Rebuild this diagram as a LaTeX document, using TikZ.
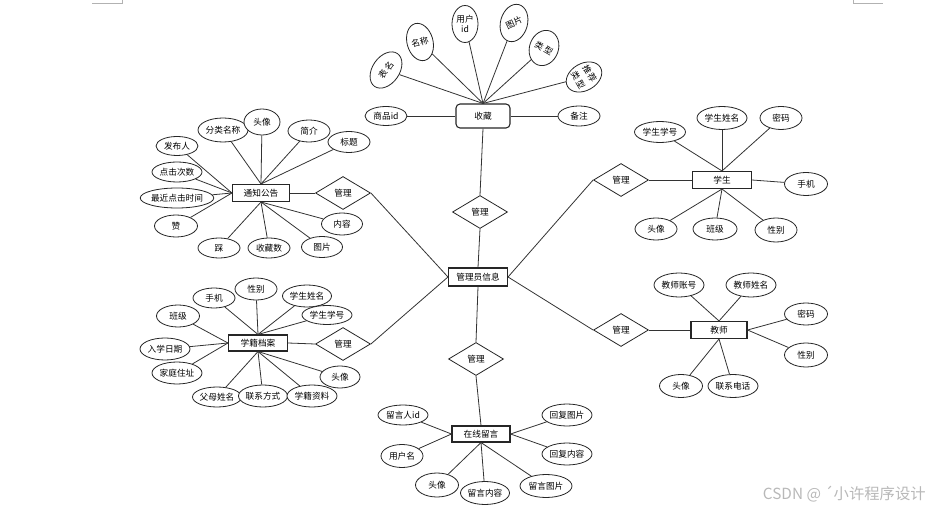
\documentclass[tikz,border=0pt]{standalone}
\usepackage{fontspec}
\usepackage{graphicx}
\setmainfont{Noto Sans CJK SC}
\usetikzlibrary{shapes.geometric}
\begin{document}
\begin{tikzpicture}[x=0.75pt,y=-0.75pt,
  every node/.style={font=\fontsize{6.5}{7.5}\selectfont, inner sep=0pt, text=black},
  ln/.style={draw=black!80, line width=0.6pt},
  ent/.style 2 args={rectangle, draw=black!85, line width=0.8pt, fill=white, minimum width=#1*0.75pt, minimum height=#2*0.75pt},
  att/.style 2 args={ellipse, draw=black!85, line width=0.6pt, fill=white, minimum width=#1*0.75pt, minimum height=#2*0.75pt},
  rel/.style={diamond, draw=black!85, line width=0.6pt, fill=white, minimum width=55*0.75pt, minimum height=33*0.75pt},
  cornermark/.style={draw=black!30, line width=0.6pt}
]
\useasboundingbox (0,0) rectangle (931,509);

% page corner marks
\draw[cornermark] (92,3) -- (122,3) -- (122,0);
\draw[cornermark] (853,0) -- (853,3) -- (883,3);

% ---------- entities ----------
\node[ent={59}{18}] (admin) at (478,277) {管理员信息};
\node[ent={54}{24}, rounded corners=3pt] (fav) at (483,116) {收藏};
\node[ent={57}{17}] (notice) at (261,193) {通知公告};
\node[ent={59}{16}] (record) at (258,343) {学籍档案};
\node[ent={59}{17}] (stu) at (722,180) {学生};
\node[ent={56}{17}] (tea) at (719,330) {教师};
\node[ent={58}{16}] (msg) at (481,434) {在线留言};

% ---------- relations ----------
\node[rel] (d1) at (480,212) {管理};
\node[rel] (d2) at (343,193) {管理};
\node[rel] (d3) at (343,344) {管理};
\node[rel] (d4) at (621,180) {管理};
\node[rel] (d5) at (621,330) {管理};
\node[rel] (d6) at (476,359) {管理};

\draw[ln] (fav.south) -- (d1.north);
\draw[ln] (d1.south) -- (admin.north);
\draw[ln] (notice.east) -- (d2.west);
\draw[ln] (d2.east) -- (admin.west);
\draw[ln] (record.east) -- (d3.west);
\draw[ln] (d3.east) -- (admin.west);
\draw[ln] (stu.west) -- (d4.east);
\draw[ln] (d4.west) -- (admin.east);
\draw[ln] (tea.west) -- (d5.east);
\draw[ln] (d5.west) -- (admin.east);
\draw[ln] (admin.south) -- (d6.north);
\draw[ln] (d6.south) -- (msg.north);

% ---------- 收藏 attributes ----------
\node[att={42}{19}] (fa) at (386,116) {商品id};
\node[att={42}{20}] (fr) at (579,116) {备注};
\node[att={40}{27}, rotate=55] (fb) at (386,70) {表\hspace{1.5pt}名};
\node[att={38}{26}, rotate=105] (fn) at (420,42) {\rotatebox{-90}{名称}};
\node[att={26}{37}, align=center] (fu) at (465,24) {用户\\id};
\node[att={38}{27}, rotate=75] (fp) at (514,23) {\rotatebox{-50}{图片}};
\node[att={36}{27}, rotate=70] (ft) at (544,48) {\rotatebox{-100}{类\hspace{1.5pt}型}};
\node[att={38}{27}, rotate=30] (fi) at (584,77) {\rotatebox{-90}{\shortstack{推\hspace{1pt}荐\\[1pt]类\hspace{1pt}型}}};

\draw[ln] (fav.west) -- (fa);
\draw[ln] (fav.east) -- (fr);
\foreach \n in {fb,fn,fu,fp,ft,fi} \draw[ln] (fav.north) -- (\n);

% ---------- 通知公告 attributes ----------
\node[att={42}{19}] (n1) at (177,146) {发布人};
\node[att={50}{20}] (n2) at (177,172) {点击次数};
\node[att={66}{20}] (n3) at (177,198) {最近点击时间};
\node[att={43}{22}] (n4) at (176,226) {赞};
\node[att={50}{24}] (n5) at (223,130) {分类名称};
\node[att={36}{26}] (n6) at (262,122) {头像};
\node[att={42}{22}] (n7) at (309,131) {简介};
\node[att={42}{21}] (n8) at (349,142) {标题};
\node[att={42}{20}] (n9) at (219,248) {踩};
\node[att={42}{20}] (n10) at (269,248) {收藏数};
\node[att={41}{21}] (n11) at (322,247) {图片};
\node[att={41}{22}] (n12) at (342,224) {内容};

\foreach \n in {n1,n2,n3,n4} \draw[ln] (notice.west) -- (\n);
\foreach \n in {n5,n6,n7,n8} \draw[ln] (notice.north) -- (\n);
\foreach \n in {n9,n10,n11,n12} \draw[ln] (notice.south) -- (\n);

% ---------- 学籍档案 attributes ----------
\node[att={42}{20}] (r1) at (214,298) {手机};
\node[att={42}{22}] (r2) at (256,289) {性别};
\node[att={49}{22}] (r3) at (307,296) {学生姓名};
\node[att={50}{19}] (r4) at (327,315) {学生学号};
\node[att={43}{22}] (r5) at (178,316) {班级};
\node[att={50}{22}] (r6) at (165,349) {入学日期};
\node[att={50}{22}] (r7) at (177,373) {家庭住址};
\node[att={44}{20}] (r8) at (217,397) {父母姓名};
\node[att={48}{22}] (r9) at (263,396) {联系方式};
\node[att={50}{22}] (r10) at (312,396) {学籍资料};
\node[att={40}{22}] (r11) at (340,377) {头像};

\foreach \n in {r1,r2,r3,r4} \draw[ln] (record.north) -- (\n);
\foreach \n in {r5,r6,r7} \draw[ln] (record.west) -- (\n);
\foreach \n in {r8,r9,r10,r11} \draw[ln] (record.south) -- (\n);

% ---------- 学生 attributes ----------
\node[att={51}{21}] (s1) at (660,132) {学生学号};
\node[att={50}{23}] (s2) at (722,118) {学生姓名};
\node[att={42}{23}] (s3) at (781,118) {密码};
\node[att={43}{23}] (s4) at (806,184) {手机};
\node[att={42}{22}] (s5) at (656,229) {头像};
\node[att={44}{22}] (s6) at (715,229) {班级};
\node[att={42}{24}] (s7) at (776,230) {性别};

\foreach \n in {s1,s2,s3} \draw[ln] (stu.north) -- (\n);
\draw[ln] (stu.east) -- (s4);
\foreach \n in {s5,s6,s7} \draw[ln] (stu.south) -- (\n);

% ---------- 教师 attributes ----------
\node[att={50}{24}] (t1) at (679,285) {教师账号};
\node[att={50}{24}] (t2) at (751,285) {教师姓名};
\node[att={43}{22}] (t3) at (806,314) {密码};
\node[att={43}{24}] (t4) at (806,355) {性别};
\node[att={43}{23}] (t5) at (681,386) {头像};
\node[att={50}{23}] (t6) at (733,386) {联系电话};

\foreach \n in {t1,t2} \draw[ln] (tea.north) -- (\n);
\foreach \n in {t3,t4} \draw[ln] (tea.east) -- (\n);
\foreach \n in {t5,t6} \draw[ln] (tea.south) -- (\n);

% ---------- 在线留言 attributes ----------
\node[att={50}{20}] (m1) at (403,415) {留言人id};
\node[att={42}{23}] (m2) at (402,456) {用户名};
\node[att={43}{24}] (m3) at (437,485) {头像};
\node[att={45}{23}] (m4) at (485,493) {留言内容};
\node[att={52}{23}] (m5) at (546,486) {留言图片};
\node[att={50}{22}] (m6) at (567,415) {回复图片};
\node[att={50}{22}] (m7) at (567,454) {回复内容};

\foreach \n in {m1,m2} \draw[ln] (msg.west) -- (\n);
\foreach \n in {m3,m4,m5} \draw[ln] (msg.south) -- (\n);
\foreach \n in {m6,m7} \draw[ln] (msg.east) -- (\n);

% watermark
\node[anchor=east, font=\fontsize{11.5}{13}\selectfont, text=black!28] (wm) at (926,494) {CSDN @ ´小许程序设计};
\end{tikzpicture}
\end{document}
